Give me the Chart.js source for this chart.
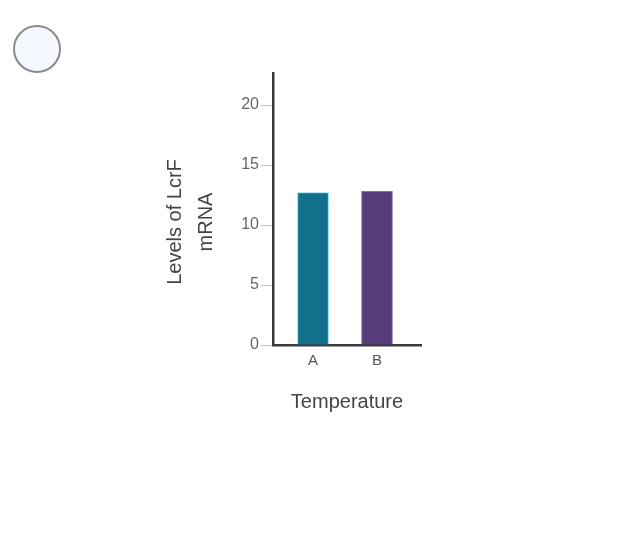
<!DOCTYPE html>
<html>
<head>
<meta charset="utf-8">
<script src="https://cdn.jsdelivr.net/npm/chart.js@4"></script>
<style>
  html, body { margin: 0; padding: 0; background: #fff; }
  #wrap { position: relative; width: 632px; height: 536px; }
  #chart { position: absolute; left: 0; top: 0; }
  .radio {
    position: absolute; left: 13px; top: 25px;
    width: 48px; height: 48px; box-sizing: border-box;
    border: 2px solid #8a8a8a; border-radius: 50%;
    background: #f5f9ff;
  }
</style>
</head>
<body>
<div id="wrap">
  <div class="radio"></div>
  <canvas id="chart" width="632" height="536"></canvas>
</div>
<script>
const categories = ['A', 'B'];
const xPositions = [0, 1];
const levels = [12.7, 12.8];
const barColors = ['#11708c', '#583b7a'];
const barEdges = ['#7fd4ea', '#8a6fb0'];
const yTicks = [0, 5, 10, 15, 20];
const yTitleLines = ['Levels of LcrF', 'mRNA'];
const xTitle = 'Temperature';

const FONT = "'Liberation Sans', Arial, sans-serif";

// y title is drawn by hand so it can sit a bit lower than the axis middle
const yTitlePlugin = {
    id: 'yTitlePlugin',
    afterDraw(chart) {
        const ctx = chart.ctx;
        const area = chart.chartArea;
        const cy = (area.top + area.bottom) / 2 + 13;
        ctx.save();
        ctx.fillStyle = '#444';
        ctx.font = '20px ' + FONT;
        ctx.textAlign = 'center';
        ctx.textBaseline = 'middle';
        yTitleLines.forEach((line, i) => {
            ctx.save();
            ctx.translate(175 + i * 31, cy);
            ctx.rotate(-Math.PI / 2);
            ctx.fillText(line, 0, 0);
            ctx.restore();
        });
        ctx.restore();
    }
};

const ctx = document.getElementById('chart').getContext('2d');

new Chart(ctx, {
    type: 'bar',
    data: {
        datasets: [{
            data: xPositions.map((x, i) => ({ x: x, y: levels[i] })),
            backgroundColor: barColors,
            borderColor: barEdges,
            borderWidth: 1,
            borderSkipped: 'bottom',
            barThickness: 31
        }]
    },
    options: {
        responsive: false,
        animation: false,
        layout: {
            padding: { left: 150, right: 211, top: 73, bottom: 122 }
        },
        scales: {
            x: {
                type: 'linear',
                min: -0.625,
                max: 1.6875,
                offset: false,
                afterBuildTicks(scale) {
                    scale.ticks = xPositions.map(v => ({ value: v }));
                },
                afterFit(scale) { scale.height = 69; },
                ticks: {
                    color: '#555',
                    padding: 7,
                    font: { family: FONT, size: 15 },
                    callback: (value) => categories[value]
                },
                grid: { drawOnChartArea: false, drawTicks: false, offset: false },
                border: { color: '#3a3a3a', width: 2.5 },
                title: {
                    display: true,
                    text: xTitle,
                    color: '#444',
                    padding: 0,
                    font: { family: FONT, size: 20, lineHeight: 1.2 }
                }
            },
            y: {
                min: 0,
                max: 22.67,
                afterBuildTicks(scale) {
                    scale.ticks = yTicks.map(v => ({ value: v }));
                },
                afterFit(scale) { scale.width = 123; },
                ticks: {
                    color: '#666',
                    padding: 2,
                    font: { family: FONT, size: 16 }
                },
                grid: {
                    drawOnChartArea: false,
                    drawTicks: true,
                    tickLength: 12,
                    color: '#c4c4c4',
                    lineWidth: 1
                },
                border: { color: '#3a3a3a', width: 2.5 }
            }
        },
        plugins: {
            legend: { display: false },
            tooltip: { enabled: false }
        }
    },
    plugins: [yTitlePlugin]
});
</script>
</body>
</html>
